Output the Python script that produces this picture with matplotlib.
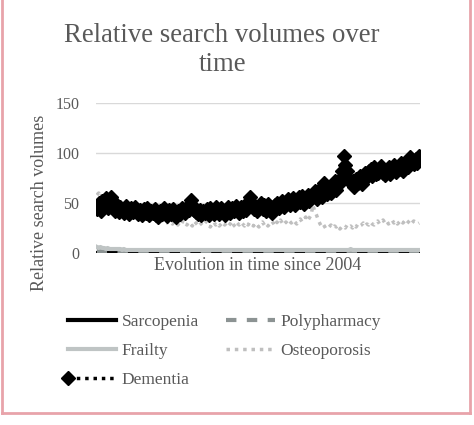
import matplotlib
matplotlib.use('Agg')
from matplotlib import pyplot as plt
from matplotlib.lines import Line2D
from matplotlib.legend_handler import HandlerLine2D

plt.rcParams['font.family'] = ['Liberation Serif', 'DejaVu Serif']

# monthly relative search volumes, Jan 2004 - Dec 2018 (one row per year)
dementia = [
    44, 50, 42, 52, 46, 55, 45, 50, 56, 47, 42, 48,
    41, 46, 44, 40, 47, 42, 39, 45, 41, 46, 42, 39,
    43, 38, 44, 40, 45, 38, 42, 40, 44, 38, 36, 42,
    39, 45, 40, 37, 43, 39, 44, 40, 36, 42, 39, 45,
    42, 40, 46, 43, 53, 48, 43, 41, 39, 43, 38, 42,
    40, 44, 38, 45, 41, 39, 46, 42, 39, 45, 41, 38,
    43, 46, 40, 45, 42, 47, 44, 40, 46, 42, 48, 43,
    46, 56, 48, 44, 47, 42, 46, 50, 44, 48, 42, 49,
    46, 40, 45, 48, 50, 45, 49, 52, 46, 50, 54, 48,
    51, 55, 48, 52, 56, 51, 57, 49, 54, 58, 52, 55,
    58, 62, 54, 60, 64, 56, 70, 62, 59, 66, 60, 68,
    72, 63, 68, 74, 82, 97, 88, 82, 74, 70, 72, 66,
    74, 70, 77, 69, 75, 80, 76, 82, 84, 77, 86, 79,
    80, 84, 87, 80, 78, 83, 86, 79, 84, 88, 81, 86,
    84, 90, 82, 87, 91, 86, 96, 92, 89, 94, 90, 97,
]
osteoporosis = [
    58, 60, 55, 59, 56, 52, 50, 53, 49, 51, 47, 48,
    46, 44, 45, 42, 44, 41, 40, 42, 38, 40, 37, 39,
    38, 36, 37, 35, 36, 33, 35, 34, 32, 34, 31, 33,
    32, 34, 31, 30, 33, 31, 29, 32, 30, 28, 31, 29,
    33, 30, 28, 31, 29, 27, 32, 30, 28, 31, 29, 27,
    30, 32, 28, 26, 29, 31, 28, 30, 27, 29, 31, 28,
    30, 27, 29, 32, 28, 26, 30, 28, 31, 29, 27, 30,
    28, 31, 29, 27, 30, 28, 26, 29, 31, 28, 30, 27,
    29, 32, 30, 27, 31, 29, 33, 30, 28, 31, 29, 32,
    30, 33, 31, 29, 32, 34, 31, 33, 36, 32, 35, 38,
    48, 42, 38, 33, 29, 26, 28, 25, 27, 26, 28, 25,
    27, 26, 28, 24, 26, 27, 25, 28, 26, 27, 25, 28,
    26, 29, 27, 28, 30, 27, 29, 28, 31, 29, 28, 30,
    32, 29, 31, 33, 30, 32, 29, 31, 33, 30, 32, 29,
    31, 33, 30, 32, 29, 31, 33, 30, 32, 31, 29, 30,
]
frailty = [
    6, 5, 6, 5, 5, 4, 5, 4, 4, 4, 4, 4,
    4, 4, 3, 4, 3, 3, 3, 3, 3, 3, 3, 3,
    3, 3, 3, 3, 3, 3, 3, 3, 3, 3, 3, 3,
    3, 3, 3, 3, 3, 3, 3, 3, 3, 3, 3, 3,
    3, 3, 3, 3, 3, 3, 3, 3, 3, 3, 3, 3,
    3, 3, 3, 3, 3, 3, 3, 3, 3, 3, 3, 3,
    3, 3, 3, 3, 3, 3, 3, 3, 3, 3, 3, 3,
    3, 3, 3, 3, 3, 3, 3, 3, 3, 3, 3, 3,
    3, 3, 3, 3, 3, 3, 3, 3, 3, 3, 3, 3,
    3, 3, 3, 3, 3, 3, 3, 3, 3, 3, 3, 3,
    3, 3, 3, 3, 3, 3, 3, 3, 3, 3, 3, 3,
    3, 3, 3, 3, 3, 3, 3, 3, 3, 4, 3, 3,
    3, 3, 3, 3, 3, 3, 3, 3, 3, 3, 3, 3,
    3, 3, 3, 3, 3, 3, 3, 3, 3, 3, 3, 3,
    3, 3, 3, 3, 3, 3, 3, 3, 3, 3, 3, 3,
]
polypharmacy = [
    2, 2, 2, 1, 1, 1, 1, 1, 1, 1, 1, 1,
    1, 1, 1, 1, 1, 1, 1, 1, 1, 1, 1, 1,
    1, 1, 1, 1, 1, 1, 1, 1, 1, 1, 1, 1,
    1, 1, 1, 1, 1, 1, 1, 1, 1, 1, 1, 1,
    1, 1, 1, 1, 1, 1, 1, 1, 1, 1, 1, 1,
    1, 1, 1, 1, 1, 1, 1, 1, 1, 1, 1, 1,
    1, 1, 1, 1, 1, 1, 1, 1, 1, 1, 1, 1,
    1, 1, 1, 1, 1, 1, 1, 1, 1, 1, 1, 1,
    1, 1, 1, 1, 1, 1, 1, 1, 1, 1, 1, 1,
    1, 1, 1, 1, 1, 1, 1, 1, 1, 1, 1, 1,
    1, 1, 1, 1, 1, 1, 1, 1, 1, 1, 1, 1,
    1, 1, 1, 1, 1, 1, 1, 1, 1, 1, 1, 1,
    1, 1, 1, 1, 1, 1, 1, 1, 1, 1, 1, 1,
    1, 1, 1, 1, 1, 1, 1, 1, 1, 1, 1, 1,
    1, 1, 1, 1, 1, 1, 1, 1, 1, 1, 1, 1,
]
sarcopenia = [
    0, 0, 0, 0, 0, 0, 0, 0, 0, 0, 0, 0,
    0, 0, 0, 0, 0, 0, 0, 0, 0, 0, 0, 0,
    0, 0, 0, 0, 0, 0, 0, 0, 0, 0, 0, 0,
    0, 0, 0, 0, 0, 0, 0, 0, 0, 0, 0, 0,
    0, 0, 0, 0, 0, 0, 0, 0, 0, 0, 0, 0,
    0, 0, 0, 0, 0, 0, 0, 0, 0, 0, 0, 0,
    0, 0, 0, 0, 0, 0, 0, 0, 0, 0, 0, 0,
    0, 0, 0, 0, 0, 0, 0, 0, 0, 0, 0, 0,
    0, 0, 0, 0, 0, 0, 0, 0, 0, 0, 0, 0,
    0, 0, 0, 0, 0, 0, 0, 0, 0, 0, 0, 0,
    0, 0, 0, 0, 0, 0, 0, 0, 0, 0, 0, 0,
    0, 0, 0, 0, 0, 0, 0, 0, 0, 0, 0, 0,
    0, 0, 0, 0, 0, 0, 0, 0, 0, 0, 0, 0,
    0, 0, 0, 0, 0, 0, 0, 0, 0, 0, 0, 0,
    0, 0, 0, 0, 0, 0, 0, 0, 0, 0, 0, 0,
]
months = list(range(len(dementia)))
yticks = [0, 50, 100, 150]

text_grey = '#595959'


class MarkerLeftHandler(HandlerLine2D):
    # excel style: single marker at the left end of the sample line
    def create_artists(self, *args, **kwargs):
        artists = super().create_artists(*args, **kwargs)
        for a in artists:
            a.set_markevery([0])
        return artists


fig = plt.figure(figsize=(4.74, 4.25), dpi=100)
ax = fig.add_axes([96 / 474, 1 - 253 / 425, 324 / 474, 150 / 425])

ax.plot(months, sarcopenia, color='black', lw=3, label='Sarcopenia', zorder=3)
ax.plot(months, polypharmacy, color='#8c9393', lw=3, ls=(0, (2.5, 2.5)), label='Polypharmacy', zorder=3)
ax.plot(months, frailty, color='#bfc4c4', lw=3, label='Frailty', zorder=3)
ax.plot(months, osteoporosis, color='#bfbfbf', lw=2.5, ls=(0, (1, 1.4)), label='Osteoporosis', zorder=3)
dem_line, = ax.plot(months, dementia, color='black', lw=2.5, ls=(0, (1, 1.4)), marker='D', markersize=6.8,
                    label='Dementia', zorder=4)

ax.set_xlim(-0.5, len(months) - 0.5)
ax.set_ylim(0, 150)
ax.set_yticks(yticks)
ax.set_xticks([])
ax.tick_params(axis='y', length=0, pad=12, labelsize=11.5, labelcolor=text_grey)
for s in ax.spines.values():
    s.set_visible(False)
ax.yaxis.grid(True, color='#d9d9d9', lw=1)
ax.set_axisbelow(True)
ax.set_xlabel('Evolution in time since 2004', fontsize=13, color=text_grey, labelpad=3)

fig.text(40 / 474, 1 - 203 / 425, 'Relative search volumes', rotation=90,
         ha='center', va='center', fontsize=13, color=text_grey)
fig.text(222 / 474, 1 - 50 / 425, 'Relative search volumes over\ntime', ha='center', va='center',
         fontsize=19.3, color=text_grey, linespacing=1.26)

# legend: rows Sarcopenia/Polypharmacy, Frailty/Osteoporosis, Dementia
h, l = ax.get_legend_handles_labels()
order = [0, 2, 4, 1, 3]
fig.legend([h[i] for i in order], [l[i] for i in order], ncol=2, loc='upper left',
           bbox_to_anchor=(52 / 474, 1 - 298 / 425), frameon=False, fontsize=12.5,
           labelcolor=text_grey, handlelength=2.8, handletextpad=0.3, columnspacing=1.6,
           labelspacing=0.75, numpoints=1, handler_map={dem_line: MarkerLeftHandler(numpoints=1)})

# pinkish frame around the figure
frame_col = '#e8a3aa'
fig.add_artist(Line2D([2 / 474, 2 / 474], [12 / 425, 1], transform=fig.transFigure, color=frame_col, lw=2))
fig.add_artist(Line2D([470 / 474, 470 / 474], [12 / 425, 1], transform=fig.transFigure, color=frame_col, lw=2))
fig.add_artist(Line2D([2 / 474, 470 / 474], [12 / 425, 12 / 425], transform=fig.transFigure, color=frame_col, lw=2))

fig.savefig('out.png', dpi=100)
